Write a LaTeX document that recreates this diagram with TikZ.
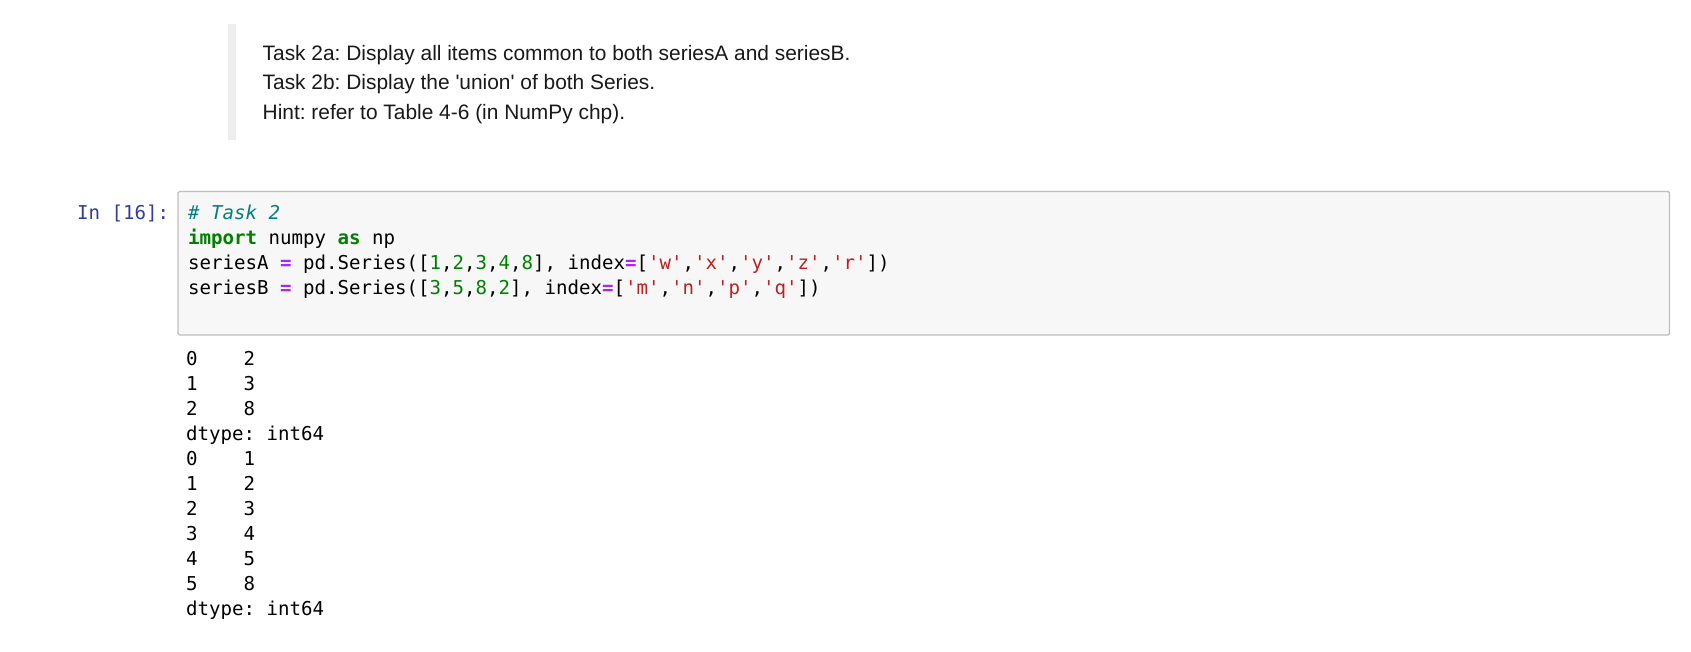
\documentclass[tikz,border=0pt]{standalone}
\usepackage{fontspec}
\setmainfont{Liberation Sans}
\setmonofont{DejaVu Sans Mono}
\definecolor{kw}{HTML}{008000}
\definecolor{cm}{HTML}{008080}
\definecolor{opc}{HTML}{AA22FF}
\definecolor{str}{HTML}{BA2121}
\definecolor{prm}{HTML}{303F9F}
\newcommand{\Kw}[1]{\textcolor{kw}{\bfseries #1}}
\newcommand{\Nm}[1]{\textcolor{kw}{#1}}
\newcommand{\Op}[1]{\textcolor{opc}{\bfseries #1}}
\newcommand{\St}[1]{\textcolor{str}{#1}}
\tikzset{
  prose/.style={anchor=base west,inner sep=0pt,font=\frenchspacing\fontsize{20.9}{24}\selectfont,text=black!90},
  code/.style={anchor=base west,inner sep=0pt,font=\ttfamily\fontsize{19.1}{24}\selectfont,text=black},
}
\begin{document}
\begin{tikzpicture}[x=1pt,y=-1pt]
\useasboundingbox (0,0) rectangle (1691,652);
\fill[white] (0,0) rectangle (1691,652);
\fill[black!7] (228,24) rectangle (236,140);
\node[prose] (t1) at (262.5,60.5) {Task 2a: Display all items common to both seriesA and seriesB.};
\node[prose] (t2) at (262.5,90) {Task 2b: Display the \textquotesingle union\textquotesingle{} of both Series.};
\node[prose] (t3) at (262.5,120) {Hint: refer to Table 4-6 (in NumPy chp).};
\draw[draw=black!25,fill=black!3,line width=1.4pt,rounded corners=1.5pt] (178,191.5) rectangle (1669.5,335);
\node[code,text=prm] (prompt) at (77,219.5) {In [16]:};
\node[code] (c1) at (188,220) {\textcolor{cm}{\itshape\# Task 2}};
\node[code] (c2) at (188,245) {\Kw{import} numpy \Kw{as} np};
\node[code] (c3) at (188,269.5) {seriesA \Op{=} pd.Series([\Nm{1},\Nm{2},\Nm{3},\Nm{4},\Nm{8}], index\Op{=}[\St{'w'},\St{'x'},\St{'y'},\St{'z'},\St{'r'}])};
\node[code] (c4) at (188,294.5) {seriesB \Op{=} pd.Series([\Nm{3},\Nm{5},\Nm{8},\Nm{2}], index\Op{=}[\St{'m'},\St{'n'},\St{'p'},\St{'q'}])};
\node[code] (o1) at (186,365) {0\ \ \ \ 2};
\node[code] (o2) at (186,390) {1\ \ \ \ 3};
\node[code] (o3) at (186,415) {2\ \ \ \ 8};
\node[code] (o4) at (186,440) {dtype: int64};
\node[code] (o5) at (186,465) {0\ \ \ \ 1};
\node[code] (o6) at (186,490) {1\ \ \ \ 2};
\node[code] (o7) at (186,515) {2\ \ \ \ 3};
\node[code] (o8) at (186,540) {3\ \ \ \ 4};
\node[code] (o9) at (186,565) {4\ \ \ \ 5};
\node[code] (o10) at (186,590) {5\ \ \ \ 8};
\node[code] (o11) at (186,615) {dtype: int64};
\end{tikzpicture}
\end{document}
